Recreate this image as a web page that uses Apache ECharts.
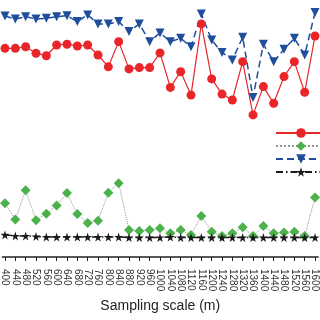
<!DOCTYPE html>
<html>
<head>
<meta charset="utf-8">
<script src="https://cdn.jsdelivr.net/npm/echarts@6/dist/echarts.min.js"></script>
<style>
  html, body { margin: 0; padding: 0; background: #fff; }
  #chart { width: 320px; height: 320px; }
</style>
</head>
<body>
<div id="chart"></div>
<script>
// sampling scales (m)
var scales = [400, 440, 480, 520, 560, 600, 640, 680, 720, 760, 800, 840, 880, 920, 960, 1000,
  1040, 1080, 1120, 1160, 1200, 1240, 1280, 1320, 1360, 1400, 1440, 1480, 1520, 1560, 1600];

var redVals = [81.2, 81.2, 81.8, 79.3, 78.3, 82.5, 82.8, 82.1, 82.5, 78.6, 74.0, 83.8, 73.2, 73.7, 73.7, 79.4,
  66.0, 72.1, 63.0, 90.7, 69.3, 63.4, 61.1, 76.0, 55.3, 66.3, 59.8, 70.2, 76.0, 64.1, 86.0];
var greenVals = [20.9, 14.6, 26.0, 14.3, 16.8, 20.0, 24.9, 16.7, 13.2, 14.1, 25.0, 28.7, 10.5, 10.1, 10.5, 11.2,
  9.2, 10.5, 8.6, 16.0, 9.8, 8.2, 9.2, 11.6, 8.2, 12.1, 9.2, 9.5, 9.8, 8.2, 23.2];
var blueVals = [93.8, 92.6, 93.5, 92.6, 92.9, 93.5, 93.9, 91.6, 94.2, 90.7, 90.7, 91.6, 87.7, 90.7, 83.8, 87.2,
  83.8, 85.1, 81.8, 94.6, 84.4, 79.6, 76.7, 85.5, 62.1, 82.8, 76.0, 80.8, 85.1, 78.6, 95.1];
var blackVals = [8.6, 8.2, 8.2, 8.0, 7.8, 7.8, 7.8, 7.8, 7.8, 7.8, 7.8, 7.8, 7.6, 7.6, 7.6, 7.6,
  7.8, 7.6, 7.6, 7.6, 7.6, 7.6, 7.6, 7.6, 7.6, 7.6, 7.6, 7.6, 7.6, 7.6, 7.6];

var seriesNames = ["Series 1", "Series 2", "Series 3", "Series 4"];

var starPath = "path://M50,0 L61,35 L98,35 L68,57 L79,91 L50,70 L21,91 L32,57 L2,35 L39,35 Z";

function pairs(vals) {
  return scales.map(function (s, i) { return [s, vals[i]]; });
}

var myChart = echarts.init(document.getElementById("chart"));
myChart.setOption({
  animation: false,
  grid: { left: 0, right: 0, top: 0, bottom: 63 },
  legend: {
    orient: "vertical",
    left: 270,
    top: 123,
    itemWidth: 50,
    itemHeight: 12,
    itemGap: 3,
    textStyle: { fontSize: 10, color: "#222" },
    data: seriesNames
  },
  xAxis: {
    type: "value",
    min: 390,
    max: 1612,
    name: "Sampling scale (m)",
    nameLocation: "middle",
    nameGap: 42,
    nameTextStyle: { fontSize: 14, color: "#222", fontFamily: "Liberation Sans" },
    axisLine: { lineStyle: { color: "#222", width: 1.5 } },
    axisTick: { customValues: scales, length: 4, lineStyle: { color: "#222" } },
    axisLabel: {
      customValues: scales,
      rotate: -90,
      margin: 12,
      fontSize: 10,
      color: "#333",
      fontFamily: "Liberation Sans",
      formatter: function (v) { return String(v); }
    },
    splitLine: { show: false }
  },
  yAxis: {
    type: "value",
    min: 0,
    max: 100,
    show: false
  },
  series: [
    {
      name: seriesNames[0],
      type: "line",
      data: pairs(redVals),
      color: "#e8262a",
      symbol: "circle",
      symbolSize: 9,
      lineStyle: { width: 1.2 }
    },
    {
      name: seriesNames[1],
      type: "line",
      data: pairs(greenVals),
      color: "#4bb14b",
      symbol: "diamond",
      symbolSize: 10,
      lineStyle: { width: 1, type: "dotted", color: "#8a9a8a" }
    },
    {
      name: seriesNames[2],
      type: "line",
      data: pairs(blueVals),
      color: "#1f4e9c",
      symbol: "triangle",
      symbolRotate: 180,
      symbolSize: 9,
      lineStyle: { width: 1.5, type: [7, 4] }
    },
    {
      name: seriesNames[3],
      type: "line",
      data: pairs(blackVals),
      color: "#1a1a1a",
      symbol: starPath,
      symbolSize: 9,
      lineStyle: { width: 1.5, type: [7, 3, 1.5, 3] }
    }
  ]
});
</script>
</body>
</html>
